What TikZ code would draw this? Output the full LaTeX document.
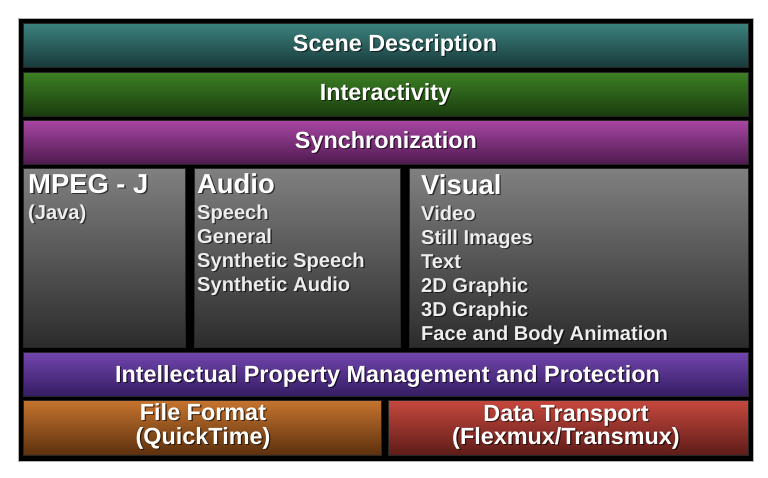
\documentclass[tikz,border=0pt]{standalone}
\usepackage{fontspec}
\setmainfont{Liberation Sans}
\definecolor{tealT}{RGB}{60,130,126}
\definecolor{tealB}{RGB}{24,58,58}
\definecolor{greenT}{RGB}{60,128,36}
\definecolor{greenB}{RGB}{26,60,14}
\definecolor{magT}{RGB}{168,70,164}
\definecolor{magB}{RGB}{78,26,78}
\definecolor{grayT}{RGB}{128,128,128}
\definecolor{grayB}{RGB}{44,44,44}
\definecolor{ipT}{RGB}{114,70,174}
\definecolor{ipB}{RGB}{52,28,98}
\definecolor{orT}{RGB}{198,116,46}
\definecolor{orB}{RGB}{92,48,14}
\definecolor{redT}{RGB}{198,72,62}
\definecolor{redB}{RGB}{94,28,24}
\tikzset{
  box/.style={anchor=north west, inner sep=0pt, outer sep=0pt, draw=black!85, line width=0.6pt},
  title/.style={anchor=base, text=white, font=\fontsize{23.4}{23.4}\selectfont\bfseries, inner sep=0pt},
  head/.style={anchor=base west, text=white, font=\fontsize{27.4}{27.4}\selectfont\bfseries, inner sep=0pt},
  item/.style={anchor=base west, text=white!93!black, font=\fontsize{20.1}{20.1}\selectfont\bfseries, inner sep=0pt},
}
\newcommand\shtext[4]{%
  \node[#1, text=black, opacity=0.6, xshift=1.3pt, yshift=-1.3pt] at (#3) {#4};
  \node[#1] (#2) at (#3) {#4};}
\begin{document}
\begin{tikzpicture}[x=1pt,y=-1pt]
\useasboundingbox (0,0) rectangle (768,477);
\fill[white] (0,0) rectangle (768,477);
\node[anchor=north west, inner sep=0pt, fill=black, draw=black!30, line width=0.5pt,
      minimum width=735pt, minimum height=443pt] (frame) at (18,18) {};
% bands
\node[box, top color=tealT, bottom color=tealB, minimum width=725pt, minimum height=44pt] (scene) at (23,23) {};
\node[box, top color=greenT, bottom color=greenB, minimum width=725pt, minimum height=44pt] (inter) at (23,72) {};
\node[box, top color=magT, bottom color=magB, minimum width=725pt, minimum height=44pt] (sync) at (23,120) {};
\node[box, top color=grayT, bottom color=grayB, minimum width=162pt, minimum height=179pt] (mpegj) at (23,168) {};
\node[box, top color=grayT, bottom color=grayB, minimum width=206pt, minimum height=179pt] (audio) at (194,168) {};
\node[box, top color=grayT, bottom color=grayB, minimum width=339pt, minimum height=179pt] (visual) at (409,168) {};
\node[box, top color=ipT, bottom color=ipB, minimum width=725pt, minimum height=44pt] (ipmp) at (23,352) {};
\node[box, top color=orT, bottom color=orB, minimum width=358pt, minimum height=55pt] (file) at (23,400) {};
\node[box, top color=redT, bottom color=redB, minimum width=360pt, minimum height=55pt] (trans) at (388,400) {};
% titles
\shtext{title}{tscene}{395,51}{Scene Description}
\shtext{title}{tinter}{385.5,100}{Interactivity}
\shtext{title}{tsync}{386,148}{Synchronization}
\shtext{title}{tipmp}{387.5,382.5}{Intellectual Property Management and Protection}
\shtext{title}{tfile1}{203,420.5}{File Format}
\shtext{title}{tfile2}{203,444}{(QuickTime)}
\shtext{title}{ttrans1}{566,421.5}{Data Transport}
\shtext{title}{ttrans2}{566,444}{(Flexmux/Transmux)}
% headings
\shtext{head}{hmpeg}{28,193.5}{MPEG - J}
\shtext{head}{haudio}{197,193}{Audio}
\shtext{head}{hvisual}{421,194.5}{Visual}
\shtext{item}{jjava}{28,219.5}{(Java)}
\foreach \t [count=\i] in {Speech, General, Synthetic Speech, Synthetic Audio}
  {\shtext{item}{a\i}{197,195.5+24*\i}{\t}}
\foreach \t [count=\i] in {Video, Still Images, Text, 2D Graphic, 3D Graphic, Face and Body Animation}
  {\shtext{item}{v\i}{421,196+24*\i}{\t}}
\end{tikzpicture}
\end{document}
